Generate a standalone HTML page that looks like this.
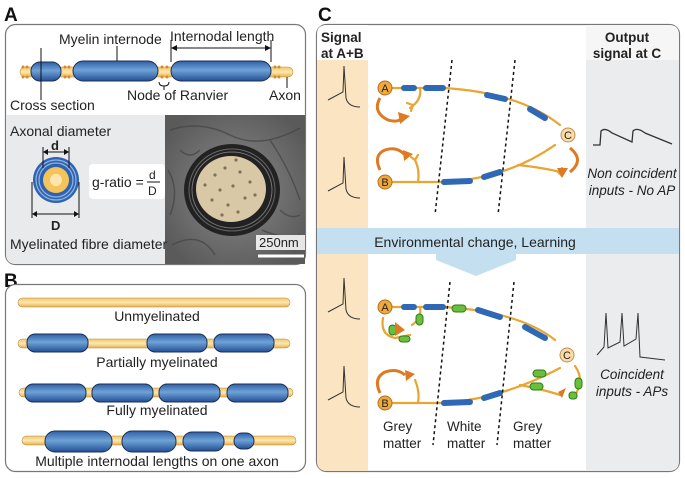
<!DOCTYPE html>
<html><head><meta charset="utf-8"><style>
html,body{margin:0;padding:0;background:#fff}
svg{display:block}
text{font-family:"Liberation Sans",Arial,sans-serif;fill:#222}
</style></head><body>
<svg width="685" height="478" viewBox="0 0 685 478" xmlns="http://www.w3.org/2000/svg">
<defs>
<linearGradient id="bl" x1="0" y1="0" x2="0" y2="1">
<stop offset="0" stop-color="#2f5fa6"/><stop offset="0.45" stop-color="#6fa3d6"/><stop offset="1" stop-color="#234f96"/></linearGradient>
<linearGradient id="yl" x1="0" y1="0" x2="0" y2="1">
<stop offset="0" stop-color="#f2c66a"/><stop offset="0.5" stop-color="#fde7b0"/><stop offset="1" stop-color="#e8b04c"/></linearGradient>
<radialGradient id="em" cx="0.5" cy="0.5" r="0.6"><stop offset="0" stop-color="#8a8a8a"/><stop offset="1" stop-color="#5a5a5a"/></radialGradient>
</defs>

<!-- Panel A -->
<text x="4" y="21" font-size="19" font-weight="bold" style="fill:#111">A</text>
<rect x="5.5" y="24.5" width="300" height="240" rx="10" fill="#fff" stroke="#777" stroke-width="1.2"/>
<path d="M6,115 H305 V254 Q305,264 295,264 H16 Q6,264 6,254 Z" fill="#e9eaec"/>
<rect x="165" y="115" width="140" height="149" fill="url(#em)"/>
<g stroke="#444" stroke-width="1.5" fill="none" opacity="0.7">
<path d="M170,130 Q200,120 230,135 T300,128"/><path d="M172,245 Q200,230 215,255"/><path d="M270,140 Q290,170 300,200"/><path d="M262,230 Q285,240 300,235"/><path d="M168,170 Q180,190 170,215"/><path d="M180,150 Q190,160 200,150"/><path d="M280,210 Q290,220 300,215"/>
</g>
<ellipse cx="232" cy="190" rx="48" ry="46" fill="#222"/>
<ellipse cx="232" cy="190" rx="43" ry="41" fill="none" stroke="#666" stroke-width="1"/>
<ellipse cx="232" cy="190" rx="40" ry="38" fill="none" stroke="#777" stroke-width="1"/>
<ellipse cx="231" cy="189" rx="35" ry="33" fill="#d9c8a5"/>
<g fill="#5a4f40" opacity="0.7">
<circle cx="215" cy="175" r="1.6"/><circle cx="225" cy="168" r="1.6"/><circle cx="240" cy="172" r="1.6"/><circle cx="250" cy="182" r="1.6"/><circle cx="220" cy="190" r="1.6"/><circle cx="233" cy="186" r="1.6"/><circle cx="245" cy="198" r="1.6"/><circle cx="212" cy="200" r="1.6"/><circle cx="228" cy="205" r="1.6"/><circle cx="238" cy="212" r="1.6"/><circle cx="255" cy="195" r="1.6"/><circle cx="222" cy="215" r="1.6"/><circle cx="205" cy="185" r="1.6"/><circle cx="236" cy="160" r="1.6"/>
</g>
<rect x="256" y="235" width="49" height="15" fill="#fff" opacity="0.85"/>
<text x="259" y="247" font-size="13">250nm</text>
<line x1="258" y1="256" x2="304" y2="256" stroke="#fff" stroke-width="3"/>

<!-- axon A -->
<rect x="20" y="67" width="273" height="10" rx="5" fill="url(#yl)" stroke="#c8953a" stroke-width="0.6"/>
<rect x="31" y="62" width="30" height="19" rx="9" fill="url(#bl)" stroke="#1c2f55"/>
<rect x="73" y="61" width="85" height="20" rx="10" fill="url(#bl)" stroke="#1c2f55"/>
<rect x="171" y="61" width="100" height="20" rx="10" fill="url(#bl)" stroke="#1c2f55"/>
<g fill="#d9892a"><circle cx="23" cy="67" r="1.5"/><circle cx="27" cy="67" r="1.5"/><circle cx="23" cy="77" r="1.5"/><circle cx="27" cy="77" r="1.5"/><circle cx="65" cy="67" r="1.5"/><circle cx="69" cy="67" r="1.5"/><circle cx="65" cy="77" r="1.5"/><circle cx="69" cy="77" r="1.5"/><circle cx="162" cy="67" r="1.5"/><circle cx="167" cy="67" r="1.5"/><circle cx="162" cy="77" r="1.5"/><circle cx="167" cy="77" r="1.5"/><circle cx="275" cy="67" r="1.5"/><circle cx="279" cy="67" r="1.5"/><circle cx="275" cy="77" r="1.5"/><circle cx="279" cy="77" r="1.5"/></g>
<g stroke="#111" stroke-width="1" fill="none">
<line x1="41" y1="48" x2="41" y2="100"/>
<line x1="117" y1="46" x2="117" y2="61"/>
<line x1="171" y1="40" x2="171" y2="62"/><line x1="271" y1="40" x2="271" y2="62"/>
<line x1="174" y1="48" x2="268" y2="48"/>
<path d="M159,82 Q159,86 164,86 Q169,86 169,82 M164,86 V90"/>
<line x1="287" y1="77" x2="287" y2="88"/>
</g>
<path d="M171,48 l6,-3 v6 z M271,48 l-6,-3 v6 z" fill="#111"/>
<g font-size="14">
<text x="59" y="44">Myelin internode</text>
<text x="170" y="41">Internodal length</text>
<text x="10" y="110">Cross section</text>
<text x="127" y="100">Node of Ranvier</text>
<text x="269" y="100">Axon</text>
<text x="10" y="136">Axonal diameter</text>
<text x="10" y="249">Myelinated fibre diameter</text>
</g>
<circle cx="56" cy="180" r="23" fill="#2f62b0"/>
<circle cx="56" cy="180" r="20" fill="none" stroke="#8fb6e3" stroke-width="1.2"/>
<circle cx="56" cy="180" r="17" fill="none" stroke="#8fb6e3" stroke-width="1.2"/>
<circle cx="56" cy="180" r="13" fill="#f4c35a"/>
<circle cx="56" cy="180" r="6" fill="#fbe6b0"/>
<g stroke="#111" stroke-width="1" fill="none">
<line x1="43" y1="147" x2="43" y2="168"/><line x1="69" y1="147" x2="69" y2="168"/><line x1="46" y1="152" x2="66" y2="152"/>
<line x1="32" y1="182" x2="32" y2="218"/><line x1="79" y1="182" x2="79" y2="218"/><line x1="35" y1="214" x2="76" y2="214"/>
</g>
<path d="M43,152 l5,-3 v6z M69,152 l-5,-3 v6z M32,214 l5,-3 v6z M79,214 l-5,-3 v6z" fill="#111"/>
<text x="51" y="150" font-size="13" font-weight="bold">d</text>
<text x="51" y="230" font-size="13" font-weight="bold">D</text>
<rect x="89" y="164" width="76" height="35" rx="4" fill="#fff"/>
<text x="92" y="187" font-size="14">g-ratio =</text>
<text x="149" y="179" font-size="12">d</text>
<line x1="147" y1="182" x2="160" y2="182" stroke="#111"/>
<text x="148" y="195" font-size="12">D</text>

<!-- Panel B -->
<text x="4" y="287" font-size="19" font-weight="bold" style="fill:#111">B</text>
<rect x="5.5" y="284.5" width="300" height="187" rx="10" fill="#fff" stroke="#777" stroke-width="1.2"/>
<rect x="18" y="298" width="272" height="9" rx="4.5" fill="url(#yl)" stroke="#b08a40" stroke-width="0.6"/>
<rect x="18" y="339" width="272" height="9" rx="4.5" fill="url(#yl)" stroke="#b08a40" stroke-width="0.6"/>
<g fill="url(#bl)" stroke="#1c2f55">
<rect x="27" y="334" width="61" height="18" rx="8"/><rect x="147" y="334" width="60" height="18" rx="8"/><rect x="214" y="334" width="60" height="18" rx="8"/>
</g>
<rect x="19" y="388" width="274" height="9" rx="4.5" fill="url(#yl)" stroke="#b08a40" stroke-width="0.6"/>
<g fill="url(#bl)" stroke="#1c2f55">
<rect x="25" y="384" width="61" height="18" rx="8"/><rect x="92" y="384" width="61" height="18" rx="8"/><rect x="159" y="384" width="61" height="18" rx="8"/><rect x="227" y="384" width="61" height="18" rx="8"/>
</g>
<rect x="22" y="436" width="274" height="9" rx="4.5" fill="url(#yl)" stroke="#b08a40" stroke-width="0.6"/>
<g fill="url(#bl)" stroke="#1c2f55">
<rect x="45" y="431" width="67" height="21" rx="10"/><rect x="122" y="431" width="54" height="21" rx="10"/><rect x="183" y="432" width="41" height="19" rx="9"/><rect x="234" y="433" width="20" height="16" rx="8"/>
</g>
<g font-size="14" text-anchor="middle">
<text x="157" y="321">Unmyelinated</text>
<text x="157" y="367">Partially myelinated</text>
<text x="157" y="415">Fully myelinated</text>
<text x="157" y="466">Multiple internodal lengths on one axon</text>
</g>

<!-- Panel C -->
<text x="318" y="21" font-size="19" font-weight="bold" style="fill:#111">C</text>
<rect x="316.5" y="24.5" width="363" height="447" rx="10" fill="#fff" stroke="#777" stroke-width="1.2"/>
<path d="M317,60 H368 V471 H327 Q317,471 317,461 Z" fill="#fae4c1"/>
<path d="M317,34 Q317,25 327,25 H368 V60 H317 Z" fill="#fdfdfd"/>
<path d="M586,60 H679 V461 Q679,471 669,471 H586 Z" fill="#ebecee"/>
<path d="M586,25 H669 Q679,25 679,35 V60 H586 Z" fill="#f6f6f6"/>
<rect x="317" y="228" width="362" height="26" fill="#c4e0f0"/>
<path d="M436,254 H516 V260 L476,276 L436,260 Z" fill="#c4e0f0"/>
<text x="475" y="247" font-size="14" text-anchor="middle">Environmental change, Learning</text>
<text x="321" y="42" font-size="13.5" font-weight="bold">Signal</text>
<text x="321" y="58" font-size="13.5" font-weight="bold">at A+B</text>
<text x="627" y="42" font-size="13.5" font-weight="bold" text-anchor="middle">Output</text>
<text x="627" y="58" font-size="13.5" font-weight="bold" text-anchor="middle">signal at C</text>

<g stroke="#333" stroke-width="1" fill="none">
<path d="M328,100 L343,92 L344,66 L346,98 Q348,107 360,107"/>
<path d="M328,191 L343,183 L344,157 L346,189 Q348,198 360,198"/>
<path d="M328,312 L343,304 L344,278 L346,310 Q348,319 360,319"/>
<path d="M328,400 L343,392 L344,366 L346,398 Q348,407 360,407"/>
<path d="M593,145 L600,145 L601,131 Q605,127 612,133 L632,142 L633,131 Q637,127 645,133 L672,144" stroke-width="1.3"/>
<path d="M597,355 L604,347 L606,313 L608,348 L620,342 L622,313 L624,346 L636,339 L638,313 L640,357 L665,360"/>
</g>
<g font-size="13.5" font-style="italic" text-anchor="middle">
<text x="632" y="178">Non coincident</text><text x="632" y="195">inputs - No AP</text>
<text x="632" y="379">Coincident</text><text x="632" y="396">inputs - APs</text>
</g>

<!-- top circuit -->
<g stroke="#e8a531" stroke-width="2.2" fill="none" stroke-linecap="round">
<path d="M392,88 L445,88 Q520,93 560,125"/>
<path d="M420,88 Q422,100 410,108 M413,105 l-6,-2 M413,105 l-2,6"/>
<path d="M392,182 L440,182 Q505,180 555,145"/>
<path d="M518,165 Q545,168 560,172 M558,172 l4,-4 M558,172 l4,4"/>
<path d="M418,182 Q420,170 415,160 M415,160 l-4,-3 M415,160 l3,-5"/>
</g>
<g stroke="#2f68b4" stroke-width="6" stroke-linecap="round">
<line x1="404" y1="88" x2="414" y2="88"/><line x1="426" y1="88" x2="443" y2="88"/>
<line x1="487" y1="95" x2="505" y2="99"/><line x1="530" y1="109" x2="545" y2="118"/>
<line x1="444" y1="182" x2="470" y2="181"/><line x1="484" y1="177" x2="500" y2="172"/>
</g>
<g stroke="#e07a22" stroke-width="3" fill="none">
<path d="M380,98 Q372,112 388,120 Q398,123 402,118"/>
<path d="M380,170 Q373,155 385,150 Q397,146 405,155"/>
<path d="M570,148 Q585,160 570,172"/>
</g>
<path d="M398,112 L410,116 L400,124 Z M403,150 L413,154 L404,161 Z M568,168 L562,178 L557,168 Z" fill="#e07a22"/>
<g stroke="#111" stroke-width="1.5" stroke-dasharray="3,3">
<line x1="452" y1="60" x2="435" y2="215"/><line x1="515" y1="60" x2="498" y2="215"/>
</g>
<g font-size="11" text-anchor="middle">
<circle cx="385" cy="88" r="7" fill="#f0a93a" stroke="#b07020"/><text x="385" y="92">A</text>
<circle cx="385" cy="182" r="7" fill="#f0a93a" stroke="#b07020"/><text x="385" y="186">B</text>
<circle cx="568" cy="135" r="7" fill="#fbdca9" stroke="#c09050"/><text x="568" y="139">C</text>
</g>

<!-- bottom circuit -->
<g stroke="#e8a531" stroke-width="2.2" fill="none" stroke-linecap="round">
<path d="M392,307 L445,307 Q520,312 555,340"/>
<path d="M420,307 Q422,318 412,325 M383,318 Q380,335 395,338 L410,335"/>
<path d="M392,403 L440,403 Q500,400 560,368"/>
<path d="M520,385 Q545,390 560,395 M418,403 Q420,392 415,380"/>
<path d="M575,366 Q585,380 575,395"/>
</g>
<g stroke="#2f68b4" stroke-width="6" stroke-linecap="round">
<line x1="404" y1="307" x2="414" y2="307"/><line x1="426" y1="307" x2="443" y2="307"/>
<line x1="478" y1="310" x2="500" y2="317"/><line x1="525" y1="327" x2="545" y2="338"/>
<line x1="444" y1="403" x2="470" y2="402"/><line x1="484" y1="398" x2="500" y2="393"/>
</g>
<g fill="#6cbf3a" stroke="#2f7a1a" stroke-width="1">
<rect x="452" y="305" width="14" height="7" rx="3.5"/>
<rect x="416" y="314" width="7" height="11" rx="3.5"/><rect x="389" y="325" width="7" height="10" rx="3.5"/><rect x="399" y="336" width="11" height="6" rx="3"/>
<rect x="533" y="370" width="13" height="7" rx="3.5"/><rect x="530" y="383" width="13" height="7" rx="3.5"/>
<rect x="575" y="378" width="7" height="11" rx="3.5"/><rect x="569" y="392" width="8" height="7" rx="3"/>
</g>
<path d="M395,322 L405,330 L395,336 Z M558,392 L566,388 L562,398 Z M405,370 L415,374 L406,381 Z" fill="#e07a22"/>
<path d="M380,393 Q373,378 385,372 Q397,368 405,375" stroke="#e07a22" stroke-width="3" fill="none"/>
<g stroke="#111" stroke-width="1.5" stroke-dasharray="3,3">
<line x1="450" y1="282" x2="433" y2="445"/><line x1="514" y1="282" x2="497" y2="445"/>
</g>
<g font-size="11" text-anchor="middle">
<circle cx="385" cy="307" r="7" fill="#f0a93a" stroke="#b07020"/><text x="385" y="311">A</text>
<circle cx="385" cy="403" r="7" fill="#f0a93a" stroke="#b07020"/><text x="385" y="407">B</text>
<circle cx="567" cy="355" r="7" fill="#fbdca9" stroke="#c09050"/><text x="567" y="359">C</text>
</g>
<g font-size="13.5">
<text x="383" y="431">Grey</text><text x="383" y="448">matter</text>
<text x="447" y="431">White</text><text x="447" y="448">matter</text>
<text x="513" y="431">Grey</text><text x="513" y="448">matter</text>
</g>
</svg>
</body></html>
